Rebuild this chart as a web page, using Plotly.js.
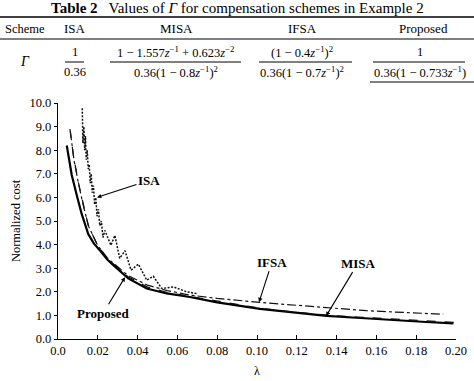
<!DOCTYPE html>
<html>
<head>
<meta charset="utf-8">
<script src="https://cdn.plot.ly/plotly-3.0.1.min.js"></script>
<style>html,body{margin:0;padding:0;background:#fff;}#chart{width:474px;height:381px;}</style>
</head>
<body>
<div id="chart"></div>
<script>
// ---- Table data ----
const tableTitle = "<b>Table 2</b>   Values of <i>Γ</i> for compensation schemes in Example 2";
const schemes = ["ISA", "MISA", "IFSA", "Proposed"];
const numerators = ["1", "1 − 1.557<i>z</i><sup>−1</sup> + 0.623<i>z</i><sup>−2</sup>", "(1 − 0.4<i>z</i><sup>−1</sup>)<sup>2</sup>", "1"];
const denominators = ["0.36", "0.36(1 − 0.8<i>z</i><sup>−1</sup>)<sup>2</sup>", "0.36(1 − 0.7<i>z</i><sup>−1</sup>)<sup>2</sup>", "0.36(1 − 0.733<i>z</i><sup>−1</sup>)"];

// ---- Chart data ----
const isaX = [0.0122,0.0125,0.0130,0.0134,0.0138,0.0142,0.0147,0.0152,0.0157,0.0162,0.0167,0.0172,0.0178,0.0184,0.0190,0.0196,0.0203,0.0210,0.0218,0.0226,0.0236,0.0245,0.0266,0.0286,0.0310,0.0337,0.0367,0.0404,0.0446,0.0479,0.0521,0.0580,0.0647,0.0700];
const isaY = [9.78,8.3,9.0,8.0,8.6,7.6,8.0,7.2,7.4,6.6,7.0,6.2,6.5,5.7,6.0,5.2,5.5,4.8,5.0,4.3,4.6,4.39,3.97,4.39,3.42,3.74,2.92,3.17,2.49,2.66,2.14,2.21,2.0,1.92];

const misaX = [0.0060,0.0077,0.0102,0.0127,0.0152,0.0200,0.0250,0.0350,0.0450,0.0550,0.0700,0.0850,0.1000,0.1200,0.1350,0.1500,0.1700,0.1850,0.2000];
const misaY = [8.9,7.8,6.65,5.66,4.8,3.95,3.4,2.65,2.2,1.97,1.76,1.52,1.32,1.13,1.01,0.93,0.83,0.76,0.70];

const ifsaX = [0.0062,0.0080,0.0105,0.0130,0.0155,0.0200,0.0250,0.0350,0.0450,0.0550,0.0663,0.0800,0.1015,0.1200,0.1367,0.1550,0.1750,0.1936];
const ifsaY = [8.8,7.6,6.5,5.55,4.75,3.95,3.42,2.7,2.28,2.05,1.86,1.72,1.55,1.42,1.30,1.20,1.12,1.05];

const propX = [0.0044,0.0069,0.0094,0.0119,0.0152,0.0180,0.0211,0.0250,0.0278,0.0353,0.0446,0.0546,0.0663,0.0800,0.1015,0.1200,0.1350,0.1500,0.1668,0.1850,0.1987];
const propY = [8.2,6.95,6.1,5.3,4.45,4.05,3.75,3.35,3.13,2.57,2.14,1.93,1.78,1.55,1.28,1.10,0.98,0.90,0.80,0.72,0.66];

const xTickVals = [0,0.02,0.04,0.06,0.08,0.10,0.12,0.14,0.16,0.18,0.20];
const xTickText = ["0.0","0.02","0.04","0.06","0.08","0.10","0.12","0.14","0.16","0.18","0.20"];
const yTickVals = [0,1,2,3,4,5,6,7,8,9,10];
const yTickText = ["0.0","1.0","2.0","3.0","4.0","5.0","6.0","7.0","8.0","9.0","10.0"];

// ---- layout geometry (pixels) ----
const W = 474, H = 381;
const L = 58, R = 456, T = 103, B = 339;
const px = v => (v - L) / (R - L);
const py = v => (B - v) / (B - T);
const FONT = "Liberation Serif, Times New Roman, serif";

const traces = [
  {x: propX, y: propY, mode: "lines", name: "Proposed", line: {color: "#000", width: 2.2}},
  {x: misaX, y: misaY, mode: "lines", name: "MISA", line: {color: "#111", width: 1.2, dash: "dash"}},
  {x: ifsaX, y: ifsaY, mode: "lines", name: "IFSA", line: {color: "#111", width: 1.2, dash: "dashdot"}},
  {x: isaX, y: isaY, mode: "lines", name: "ISA", line: {color: "#111", width: 1.5, dash: "2px,1.5px"}}
];

const ann = [];
const shapes = [];
function txt(x, y, text, size, extra) {
  ann.push(Object.assign({xref: "paper", yref: "paper", x: px(x), y: py(y), text: text, showarrow: false,
    xanchor: "center", yanchor: "middle", font: {family: FONT, size: size, color: "#000"}}, extra || {}));
}
function hline(x0, x1, y, w) {
  shapes.push({type: "line", xref: "paper", yref: "paper", x0: px(x0), x1: px(x1), y0: py(y), y1: py(y), line: {color: "#000", width: w}});
}

// table
txt(237, 8, tableTitle, 15);
hline(0, 474, 17, 1.5);
hline(0, 474, 39, 1);
hline(370, 474, 82, 1);
txt(25, 29, "Scheme", 12.5);
const colX = [75, 176, 302, 420];
const barL = [65, 110, 259, 373];
const barR = [84, 241, 352, 465];
schemes.forEach((s, i) => {
  txt(colX[i] + (i === 3 ? 3 : 0), 29, s, 13);
  txt(colX[i], 52, numerators[i], 12.5);
  txt(colX[i], 72, denominators[i], 12.5);
  hline(barL[i], barR[i], 62, 1);
});
txt(25, 61, "<i>Γ</i>", 14);

// chart labels with arrows
function lab(text, xd, yd, ax, ay) {
  ann.push({x: xd, y: yd, xref: "x", yref: "y", text: "<b>" + text + "</b>", showarrow: true, ax: ax, ay: ay,
    arrowhead: 2, arrowsize: 0.8, arrowwidth: 1.1, arrowcolor: "#000", standoff: 0,
    font: {family: FONT, size: 13, color: "#000"}});
}
lab("ISA", 0.0196, 6.0, 52, -17);
lab("IFSA", 0.101, 1.56, 13, -40);
lab("MISA", 0.1347, 0.97, 32, -53);
lab("Proposed", 0.0337, 2.62, -22, 36);

// caption (cut off at bottom, as in the reference)
txt(237, 377, "<b>Fig. 5   Normalized costs for ISA, MISA, IFSA and proposed schemes</b>", 13, {yanchor: "top"});

const layout = {
  width: W, height: H,
  margin: {l: L, r: W - R, t: T, b: H - B, pad: 0},
  paper_bgcolor: "#fff", plot_bgcolor: "#fff",
  showlegend: false,
  font: {family: FONT, size: 12, color: "#000"},
  xaxis: {range: [0, 0.2], tickvals: xTickVals, ticktext: xTickText, ticks: "inside", ticklen: 4, tickwidth: 1,
    tickcolor: "#000", showline: true, linecolor: "#000", linewidth: 1.2, showgrid: false, zeroline: false,
    tickfont: {family: FONT, size: 12.5, color: "#000"},
    title: {text: "λ", font: {family: FONT, size: 12, color: "#000"}, standoff: 9}},
  yaxis: {range: [0, 10], tickvals: yTickVals, ticktext: yTickText, ticks: "outside", ticklen: 3, tickwidth: 1,
    tickcolor: "#000", showline: true, linecolor: "#000", linewidth: 1.2, showgrid: false, zeroline: false,
    tickfont: {family: FONT, size: 12.5, color: "#000"},
    title: {text: "Normalized cost", font: {family: FONT, size: 12.5, color: "#000"}, standoff: 6}},
  annotations: ann,
  shapes: shapes
};

Plotly.newPlot("chart", traces, layout, {staticPlot: true, displayModeBar: false});
</script>
</body>
</html>
